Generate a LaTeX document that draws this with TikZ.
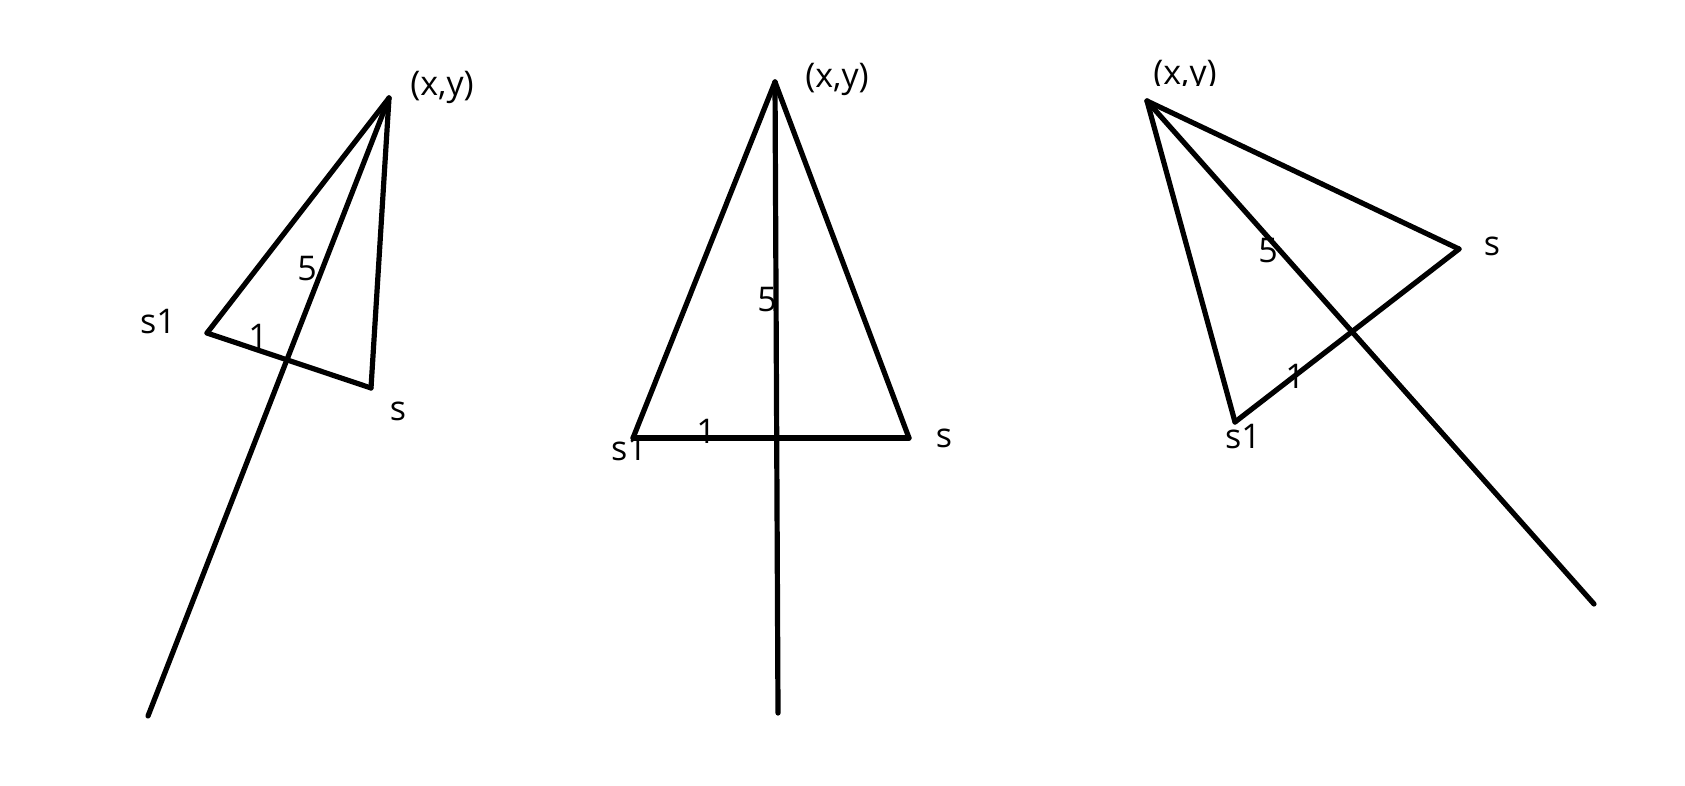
\documentclass[tikz,border=0pt]{standalone}
\usepackage{fontspec}
\setmainfont{Open Sans}
\begin{document}
\begin{tikzpicture}[x=1pt,y=-1pt,
  edge/.style={line width=5.2pt,line cap=round,black},
  lbl/.style={inner sep=0pt,anchor=base,font=\fontsize{34}{40}\selectfont,text=black}]
\useasboundingbox[fill=white] (0,0) rectangle (1685,785);
% ---------- panel 1 ----------
\coordinate (a1) at (389,98);
\coordinate (p1) at (207,333);
\coordinate (q1) at (371,388);
\coordinate (e1) at (148,716);
\node[lbl] (xy1) at (442,95) {(x,y)};
\node[lbl] (s1a) at (158,333) {s1};
\node[lbl] (sa) at (398,420) {s};
\node[lbl] (fa) at (307,280) {5};
\node[lbl] (oa) at (258,348) {1};
\draw[edge] (a1) -- (p1);
\draw[edge] (p1) -- (q1);
\draw[edge] (q1) -- (a1);
\draw[edge] (a1) -- (e1);
% ---------- panel 2 ----------
\coordinate (a2) at (775,82);
\coordinate (p2) at (633,438);
\coordinate (q2) at (909,438);
\coordinate (e2) at (778,713);
\node[lbl] (xy2) at (837,87) {(x,y)};
\node[lbl] (s1b) at (629,460) {s1};
\node[lbl] (sb) at (944,447) {s};
\node[lbl] (fb) at (767,311) {5};
\node[lbl] (ob) at (706,443) {1};
\draw[edge] (a2) -- (p2);
\draw[edge] (p2) -- (q2);
\draw[edge] (q2) -- (a2);
\draw[edge] (a2) -- (e2);
% ---------- panel 3 ----------
\coordinate (a3) at (1147,101);
\coordinate (q3) at (1459,249);
\coordinate (p3) at (1235,422);
\coordinate (e3) at (1594,604);
\begin{scope}
\clip (1100,0) rectangle (1300,85.5);
\node[lbl] (xy3) at (1185,84.5) {(x,y)};
\end{scope}
\node[lbl] (s1c) at (1243,448) {s1};
\node[lbl] (sc) at (1492,255) {s};
\node[lbl] (fc) at (1268,262) {5};
\node[lbl] (oc) at (1295,388) {1};
\draw[edge] (a3) -- (q3);
\draw[edge] (q3) -- (p3);
\draw[edge] (p3) -- (a3);
\draw[edge] (a3) -- (e3);
\end{tikzpicture}
\end{document}
